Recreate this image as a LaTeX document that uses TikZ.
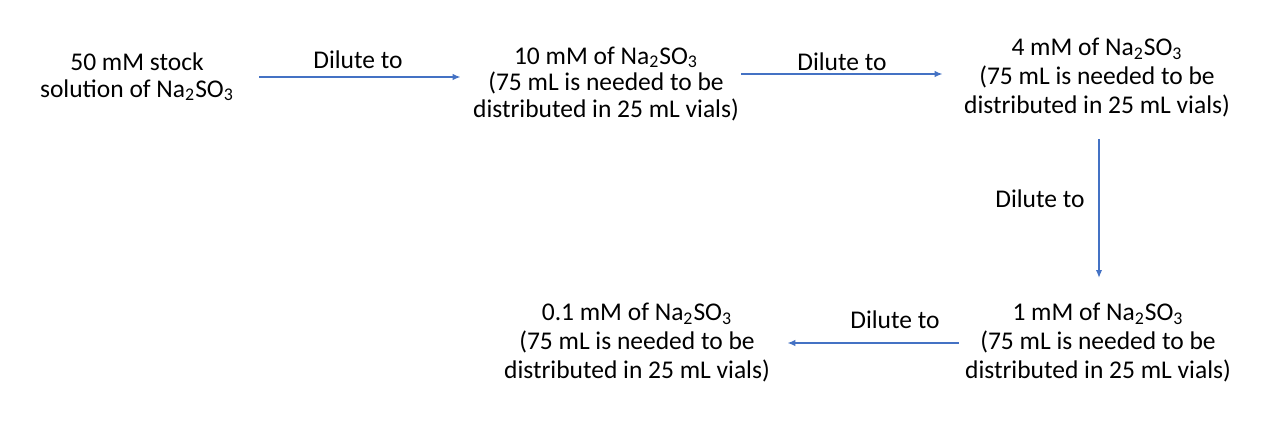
\documentclass[tikz,border=0pt]{standalone}
\usepackage{fontspec}
\setmainfont{Carlito}
\usetikzlibrary{arrows.meta}
\definecolor{arrowblue}{HTML}{4472C4}
\newcommand{\nasulf}{Na\textsubscript{2}SO\textsubscript{3}}

\begin{document}
\begin{tikzpicture}[x=1pt, y=1pt,
		stage/.style={align=center, inner sep=0pt, font=\fontsize{12.75}{14.5}\selectfont},
		firststage/.style={stage, font=\fontsize{12.75}{13.3}\selectfont},
		steplabel/.style={inner sep=0pt, font=\fontsize{12.75}{14}\selectfont},
		arr/.style={draw=arrowblue, line width=0.9pt, -{Latex[length=4pt, width=3.2pt]}}]
		\useasboundingbox (0,0) rectangle (635,210);

		\node[firststage] (stock) at (68.5,171.5) {50 mM stock\\solution of \nasulf};
		\node[firststage] (ten) at (303,168) {10 mM of \nasulf\\(75 mL is needed to be\\distributed in 25 mL vials)};
		\node[stage] (four) at (548.5,171) {4 mM of \nasulf\\(75 mL is needed to be\\distributed in 25 mL vials)};
		\node[stage] (one) at (549,38.5) {1 mM of \nasulf\\(75 mL is needed to be\\distributed in 25 mL vials)};
		\node[stage] (tenth) at (318.5,38.5) {0.1 mM of \nasulf\\(75 mL is needed to be\\distributed in 25 mL vials)};

		\node[steplabel] (l1) at (179,180) {Dilute to};
		\node[steplabel] (l2) at (421,179) {Dilute to};
		\node[steplabel] (l3) at (520,110.5) {Dilute to};
		\node[steplabel] (l4) at (447.5,50) {Dilute to};

		\draw[arr, shorten <=12.5pt, shorten >=6pt] (stock.east) -- (stock.east -| ten.west);
		\draw[arr, shorten <=1pt, shorten >=10.5pt] ([yshift=2pt]four.west -| ten.east) -- ([yshift=2pt]four.west);
		\draw[arr, shorten <=10.5pt, shorten >=12.5pt] ([xshift=1pt]four.south) -- ([xshift=1pt]four.south |- one.north);
		\draw[arr, shorten <=3pt, shorten >=8.5pt] (one.west) -- (one.west -| tenth.east);
\end{tikzpicture}
\end{document}
